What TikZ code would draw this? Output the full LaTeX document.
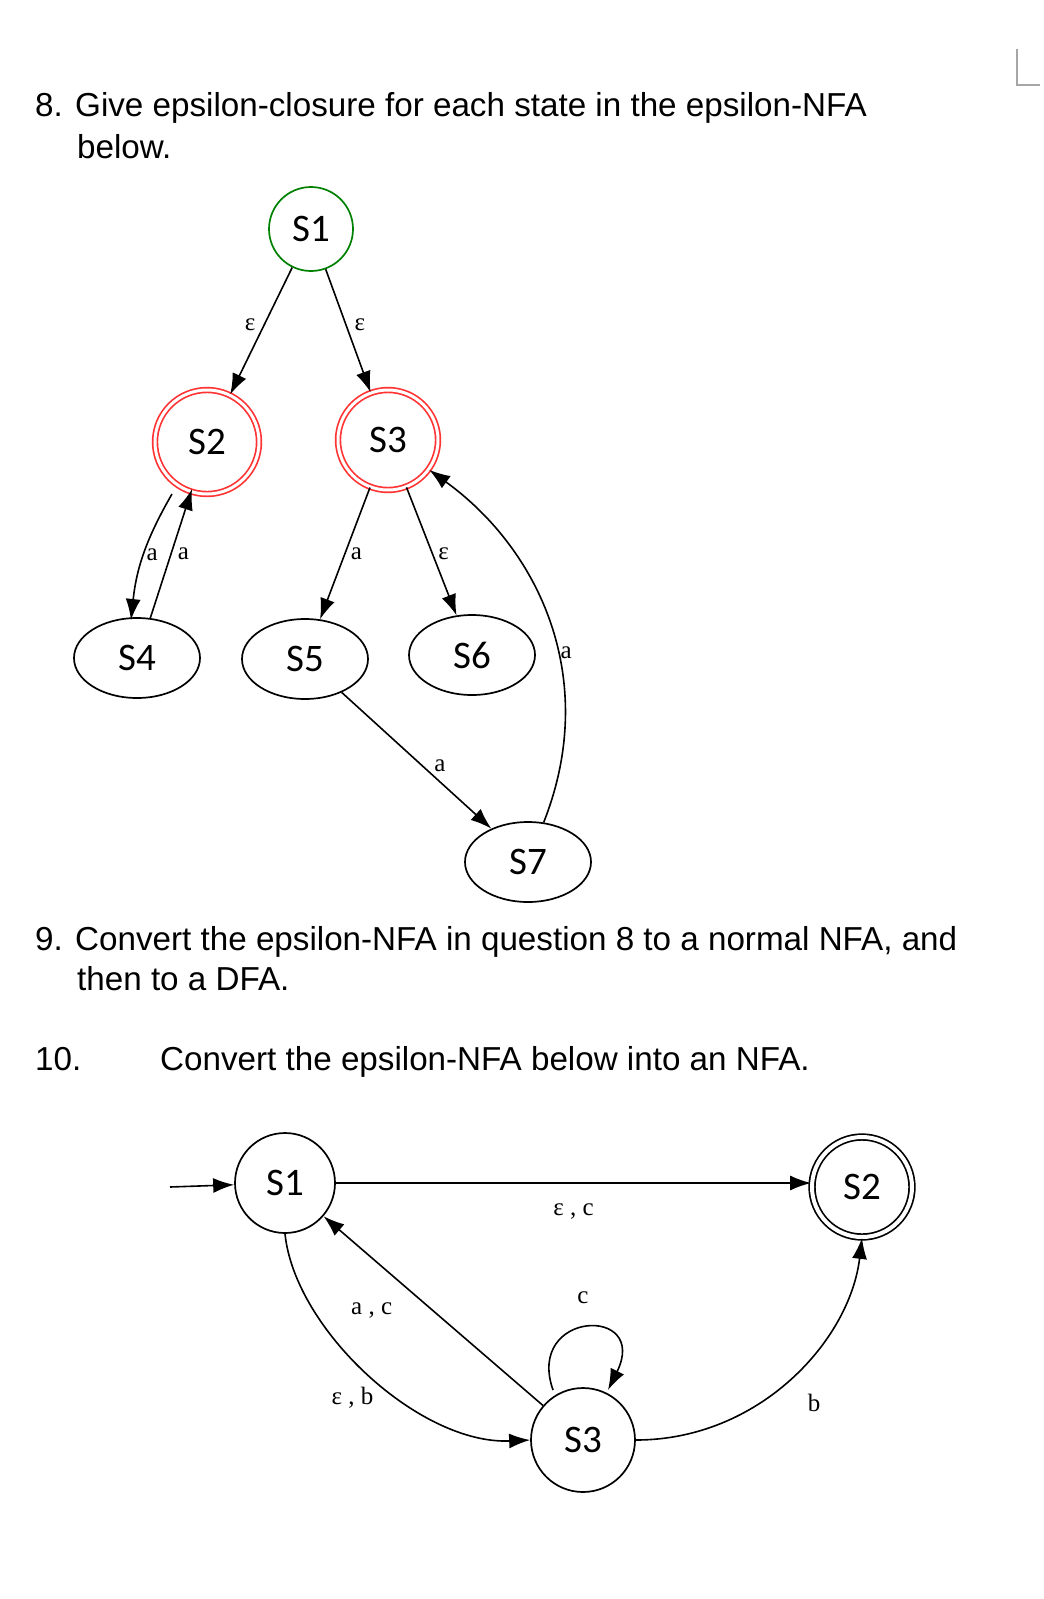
\documentclass[tikz,border=0pt]{standalone}
\usepackage{fontspec}
\setmainfont{Liberation Sans}
\newfontfamily\nodefont{Carlito}
\newfontfamily\lblfont{Liberation Serif}
\usetikzlibrary{arrows.meta,shapes.geometric}
\begin{document}
\begin{tikzpicture}[x=1pt,y=-1pt,
  txt/.style={anchor=base west,inner sep=0,font=\fontsize{33.2}{38}\selectfont},
  st/.style={draw,line width=1.7pt,circle,font=\nodefont\fontsize{39}{42}\selectfont,inner sep=0},
  el/.style={draw,line width=1.7pt,ellipse,minimum width=126pt,minimum height=80pt,font=\nodefont\fontsize{39}{42}\selectfont,inner sep=0},
  lb/.style={font=\lblfont\fontsize{25}{27}\selectfont,inner sep=0},
  ar/.style={line width=1.6pt,-{Latex[length=21pt,width=15pt]}}]
\useasboundingbox (0,0) rectangle (1044,1599);
\draw[gray!70,line width=1.2pt] (1017,49) -- (1017,85) -- (1040,85);
\node[txt] (t8) at (35,116) {8. Give epsilon-closure for each state in the epsilon-NFA};
\node[txt] (t8b) at (77,158) {below.};
\node[txt] (t9) at (35,950) {9. Convert the epsilon-NFA in question 8 to a normal NFA, and};
\node[txt] (t9b) at (77,990) {then to a DFA.};
\node[txt] (t10) at (35,1070) {10.};
\node[txt] (t10b) at (160,1070) {Convert the epsilon-NFA below into an NFA.};
% top automaton
\node[st,draw=green!50!black,minimum size=84pt] (a1) at (311,229) {S1};
\node[st,draw=red!80,minimum size=104pt,double,double distance=3pt] (a2) at (207,442) {S2};
\node[st,draw=red!80,minimum size=100pt,double,double distance=3pt] (a3) at (388,440) {S3};
\node[el] (a4) at (137,658) {S4};
\node[el] (a5) at (305,659) {S5};
\node[el] (a6) at (472,655) {S6};
\node[el] (a7) at (528,862) {S7};
\draw[ar] (a1) -- node[lb,pos=0.45,left=8pt]{ε} (a2);
\draw[ar] (a1) -- node[lb,pos=0.45,right=8pt]{ε} (a3);
\draw[ar] (172,494) coordinate (p1) to[bend right=12] node[lb,pos=0.5,right=2pt]{a} (131,620);
\draw[ar] (150,619) coordinate (p2) -- node[lb,pos=0.5,right=6pt]{a} (192,489);
\draw[ar] (a3) -- node[lb,pos=0.5,right=5pt]{a} (a5);
\draw[ar] (a3) -- node[lb,pos=0.52,right=5pt]{ε} (a6);
\draw[ar] (a5) -- node[lb,pos=0.6,above right=2pt]{a} (a7);
\draw[ar] (a7) .. controls (600,680) and (540,550) .. node[lb,pos=0.42,right=2pt]{a} (a3);
% bottom automaton
\coordinate (start) at (170,1187);
\node[st,minimum size=100pt] (b1) at (285,1183) {S1};
\node[st,minimum size=100pt,double,double distance=4pt] (b2) at (862,1187) {S2};
\node[st,minimum size=104pt] (b3) at (583,1440) {S3};
\draw[ar] (start) -- (b1);
\draw[ar] (b1.east) -- node[lb,pos=0.5,below=20pt]{ε , c} (b2.west |- b1.east);
\draw[ar] (b3) -- node[lb,pos=0.62,below left=14pt]{a , c} (b1);
\draw[ar] (b1.south) .. controls (295,1330) and (420,1445) .. node[lb,pos=0.6,left=25pt]{ε , b} (b3.west);
\draw[ar] (553,1390) coordinate (l1) .. controls (525,1310) and (650,1305) .. (608,1390);
\node[lb] (lc) at (583,1298) {c};
\draw[ar] (b3.east) .. controls (760,1440) and (850,1340) .. node[lb,pos=0.5,below right=16pt]{b} (b2.south);
\end{tikzpicture}
\end{document}
